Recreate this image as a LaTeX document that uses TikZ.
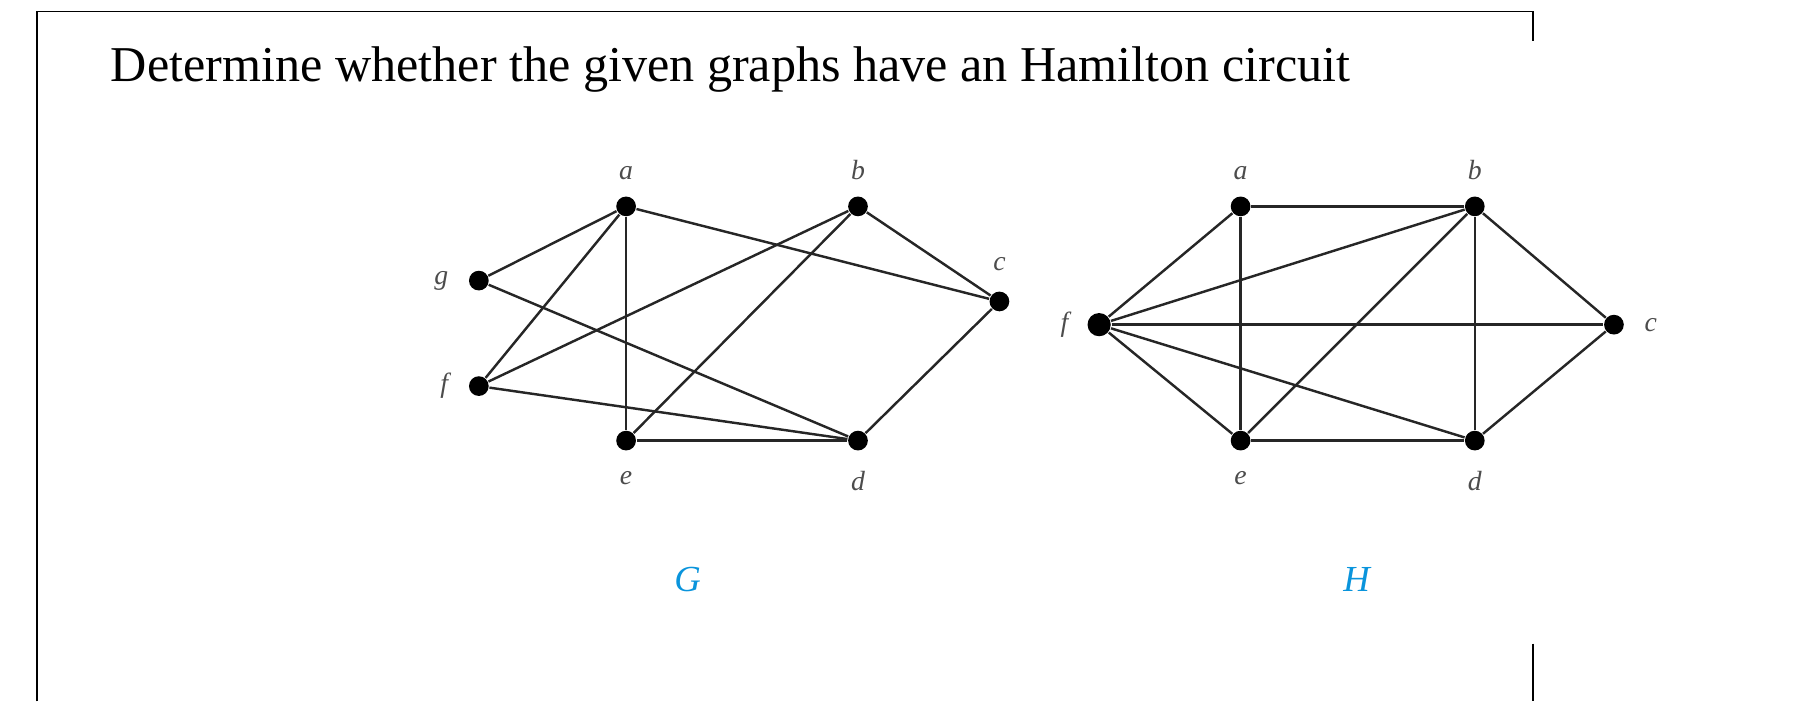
\documentclass[tikz,border=0pt]{standalone}
\usepackage{fontspec}
\setmainfont{Liberation Serif}
\begin{document}
\begin{tikzpicture}[x=0.01cm,y=-0.01cm,
  vtx/.style={circle,fill=black,inner sep=0pt,minimum size=0.17cm},
  lab/.style={font=\fontsize{6.8}{8}\selectfont\itshape,text=black!70},
  edge/.style={line width=0.6pt,black!85},
  frame/.style={line width=0.4pt},
  glab/.style={font=\fontsize{9}{11}\selectfont\itshape,text=cyan!80!blue}]
\useasboundingbox (0,0) rectangle (1568,605);
\draw[frame] (32,605) -- (32,10) -- (1322,10) -- (1322,35);
\draw[frame] (1322,555) -- (1322,605);
\node[anchor=base west,inner sep=0pt,font=\fontsize{12.3}{14}\selectfont] (title) at (95,70) {Determine whether the given graphs have an Hamilton circuit};
% G
\node[vtx] (ga) at (540,178) {}; \node[lab,above=3pt] at (ga) {a};
\node[vtx] (gb) at (740,178) {}; \node[lab,above=3pt] at (gb) {b};
\node[vtx] (gc) at (862,260) {}; \node[lab,above=4pt] at (gc) {c};
\node[vtx] (gg) at (413,242) {}; \node[lab,left=4pt] at (gg) {g};
\node[vtx] (gf) at (413,333) {}; \node[lab,left=4pt] at (gf) {f};
\node[vtx] (ge) at (540,380) {}; \node[lab,below=4pt] at (ge) {e};
\node[vtx] (gd) at (740,380) {}; \node[lab,below=4pt] at (gd) {d};
\foreach \u/\v in {ga/gg,ga/gf,ga/ge,ga/gc,gb/gf,gb/ge,gb/gc,gg/gd,gf/gd,ge/gd,gc/gd}
  \draw[edge] (\u) -- (\v);
\node[glab] (G) at (593,500) {G};
% H
\node[vtx] (ha) at (1070,178) {}; \node[lab,above=3pt] at (ha) {a};
\node[vtx] (hb) at (1272,178) {}; \node[lab,above=3pt] at (hb) {b};
\node[vtx] (hc) at (1392,280) {}; \node[lab,right=4pt] at (hc) {c};
\node[vtx,minimum size=0.2cm] (hf) at (948,280) {}; \node[lab,left=4pt] at (hf) {f};
\node[vtx] (he) at (1070,380) {}; \node[lab,below=4pt] at (he) {e};
\node[vtx] (hd) at (1272,380) {}; \node[lab,below=4pt] at (hd) {d};
\foreach \u/\v in {ha/hb,ha/hf,ha/he,hf/hb,hf/hc,hf/he,hf/hd,hb/he,hb/hd,hb/hc,he/hd,hd/hc}
  \draw[edge] (\u) -- (\v);
\node[glab] (H) at (1170,500) {H};
\end{tikzpicture}
\end{document}
